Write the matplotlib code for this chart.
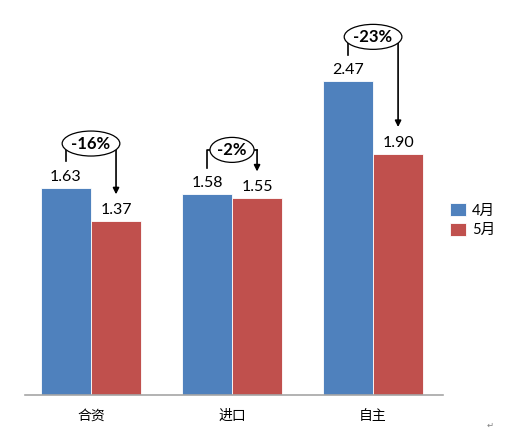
import matplotlib.pyplot as plt
import numpy as np

plt.rcParams['font.family'] = ['Lato', 'Noto Sans CJK SC', 'DejaVu Sans']

categories = ['合资', '进口', '自主']
apr = [1.63, 1.58, 2.47]
may = [1.37, 1.55, 1.90]
changes = ['-16%', '-2%', '-23%']
series_names = ['4月', '5月']

blue = '#4F81BD'
red = '#C0504D'

fig = plt.figure(figsize=(5.17, 4.34), dpi=100)
ax = fig.add_axes([25 / 517, 39 / 434, 418 / 517, 381 / 434])

x = np.arange(len(categories))
w = 0.355
b1 = ax.bar(x - w / 2, apr, w, color=blue, edgecolor='white', linewidth=0.6, label=series_names[0])
b2 = ax.bar(x + w / 2, may, w, color=red, edgecolor='white', linewidth=0.6, label=series_names[1])
ax.bar_label(b1, fmt='%.2f', padding=3, fontsize=11.5)
ax.bar_label(b2, fmt='%.2f', padding=3, fontsize=11.5)

# change annotations: bracket + ellipse + arrow
for i in range(len(categories)):
    xl = x[i] - w / 2
    xr = x[i] + w / 2
    y0 = apr[i] + 0.21
    ytop = apr[i] + 0.35
    y1 = may[i] + 0.21
    ax.plot([xl, xl, xr], [y0, ytop, ytop], color='black', lw=1.2, zorder=3)
    ax.annotate('', xy=(xr, y1), xytext=(xr, ytop),
                arrowprops=dict(arrowstyle='-|>', color='black', lw=1.2,
                                mutation_scale=9, shrinkA=0, shrinkB=0), zorder=3)
    ax.text(x[i], ytop, changes[i], ha='center', va='center', fontsize=12,
            fontweight='bold', zorder=4,
            bbox=dict(boxstyle='ellipse,pad=0.05', fc='white', ec='black', lw=0.9))

ax.set_xlim(-0.468, 2.496)
ax.set_ylim(0, 3.0)
ax.set_xticks(x)
ax.set_xticklabels(categories, fontsize=10)
ax.tick_params(axis='x', length=0, pad=10)
ax.set_yticks([])
for s in ['top', 'right', 'left']:
    ax.spines[s].set_visible(False)
ax.spines['bottom'].set_color('#A6A6A6')
ax.spines['bottom'].set_linewidth(1.2)

fig.legend(loc='center left', bbox_to_anchor=(437 / 517, 1 - 220 / 434), frameon=False,
           fontsize=10.5, handlelength=1.1, handleheight=1.0, handletextpad=0.4,
           labelspacing=0.35)

fig.text(490 / 517, 1 - 425 / 434, '↵', fontsize=6, color='#808080', ha='center', va='center',
         family='DejaVu Sans')

plt.savefig('out.png', dpi=100)
